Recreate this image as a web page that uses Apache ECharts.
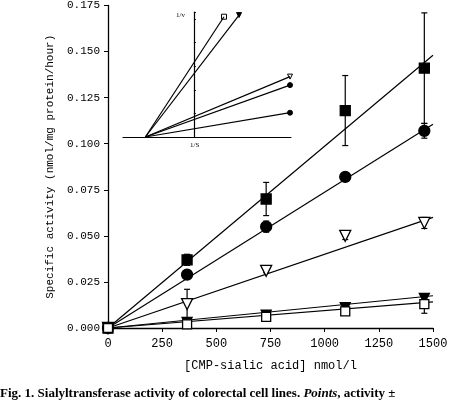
<!DOCTYPE html>
<html><head><meta charset="utf-8">
<script src="https://cdn.jsdelivr.net/npm/echarts@6/dist/echarts.min.js"></script>
<style>html,body{margin:0;background:#fff}#main{width:474px;height:408px}</style>
</head><body><div id="main"></div>
<script>
var conc = [0, 365, 730, 1095, 1460];
// series: filled square, filled circle, open triangle, filled triangle, open square
var sqFilled = [0, 0.037, 0.070, 0.118, 0.141];
var sqFilledErr = [0, 0.003, 0.009, 0.019, 0.030];
var circFilled = [0, 0.029, 0.055, 0.082, 0.107];
var circFilledErr = [0, 0.002, 0.003, 0.002, 0.004];
var triOpen = [0, 0.013, 0.031, 0.050, 0.057];
var triOpenErr = [0, 0.008, 0.001, 0.002, 0.003];
var triFilled = [0, 0.003, 0.007, 0.011, 0.016];
var triFilledErr = [0, 0.001, 0.001, 0.001, 0.002];
var sqOpen = [0, 0.002, 0.006, 0.009, 0.013];
var sqOpenErr = [0, 0.001, 0.001, 0.001, 0.005];
// fitted line values at 1500
var fitEnd = [0.148, 0.1105, 0.060, 0.0175, 0.0142];
var yTicks = ['0.000', '0.025', '0.050', '0.075', '0.100', '0.125', '0.150', '0.175'];
// inset (double reciprocal) lines: x-intercept and end point
var insetX0 = -1.0;
var insetEnds = [[0.62, 5.1], [0.93, 5.17], [1.98, 2.56], [1.98, 2.2], [1.98, 1.03]];
var insetSymbols = ['rect', 'triangle', 'triangle', 'circle', 'circle'];
var insetFilled = [false, true, false, true, true];

var chart = echarts.init(document.getElementById('main'));
var mono = 'Liberation Mono';
var sets = [
  {d: sqFilled, e: sqFilledErr, sym: 'rect', fill: true, size: 10},
  {d: circFilled, e: circFilledErr, sym: 'circle', fill: true, size: 11},
  {d: triOpen, e: triOpenErr, sym: 'triangle', fill: false, size: 11},
  {d: triFilled, e: triFilledErr, sym: 'triangle', fill: true, size: 10},
  {d: sqOpen, e: sqOpenErr, sym: 'rect', fill: false, size: 9}
];
var series = [];
sets.forEach(function (s, k) {
  series.push({type: 'line', data: [[0, 0], [1500, fitEnd[k]]], symbol: 'none', silent: true,
    lineStyle: {color: '#000', width: 1.2}, xAxisIndex: 0, yAxisIndex: 0, z: 2});
  series.push({type: 'custom', xAxisIndex: 0, yAxisIndex: 0, z: 3,
    data: conc.map(function (c, i) { return [c, s.d[i] - s.e[i], s.d[i] + s.e[i]]; }),
    renderItem: function (params, api) {
      var lo = api.coord([api.value(0), api.value(1)]);
      var hi = api.coord([api.value(0), api.value(2)]);
      var st = {stroke: '#000', lineWidth: 1.2};
      return {type: 'group', children: [
        {type: 'line', shape: {x1: lo[0], y1: lo[1], x2: hi[0], y2: hi[1]}, style: st},
        {type: 'line', shape: {x1: lo[0] - 3, y1: lo[1], x2: lo[0] + 3, y2: lo[1]}, style: st},
        {type: 'line', shape: {x1: hi[0] - 3, y1: hi[1], x2: hi[0] + 3, y2: hi[1]}, style: st}
      ]};
    }});
  series.push({type: 'scatter', xAxisIndex: 0, yAxisIndex: 0, z: 4 + k,
    data: conc.map(function (c, i) { return [c, s.d[i]]; }),
    symbol: s.sym, symbolSize: s.size, symbolRotate: s.sym === 'triangle' ? 180 : 0,
    itemStyle: {color: s.fill ? '#000' : '#fff', borderColor: '#000', borderWidth: 1.3, opacity: 1}});
});
insetEnds.forEach(function (e, k) {
  series.push({type: 'line', xAxisIndex: 1, yAxisIndex: 1, data: [[insetX0, 0], e],
    symbol: 'none', lineStyle: {color: '#000', width: 1.2}});
  series.push({type: 'scatter', xAxisIndex: 1, yAxisIndex: 1, data: [e],
    symbol: insetSymbols[k], symbolSize: 5, symbolRotate: insetSymbols[k] === 'triangle' ? 180 : 0,
    itemStyle: {color: insetFilled[k] ? '#000' : '#fff', borderColor: '#000', borderWidth: 1, opacity: 1}});
});

chart.setOption({
  animation: false,
  grid: [
    {left: 108, right: 41, top: 5, bottom: 80},
    {left: 123, top: 12, width: 168, height: 125}
  ],
  xAxis: [
    {type: 'value', min: 0, max: 1500, interval: 250, gridIndex: 0,
     name: '[CMP-sialic acid] nmol/l', nameLocation: 'middle', nameGap: 32,
     nameTextStyle: {fontFamily: mono, fontSize: 12, color: '#000'},
     axisLine: {lineStyle: {color: '#000', width: 1.3}}, axisTick: {length: 4, lineStyle: {color: '#000'}},
     axisLabel: {fontFamily: mono, fontSize: 12, color: '#000', margin: 10,
       formatter: function (v) { return String(v); }}, splitLine: {show: false}},
    {type: 'value', min: -1.46, max: 2, gridIndex: 1,
     axisLine: {onZero: true, lineStyle: {color: '#000', width: 1.2}}, axisTick: {show: false},
     axisLabel: {show: false}, splitLine: {show: false}}
  ],
  yAxis: [
    {type: 'value', min: 0, max: 0.175, interval: 0.025, gridIndex: 0,
     name: 'Specific activity (nmol/mg protein/hour)', nameLocation: 'middle', nameGap: 52,
     nameTextStyle: {fontFamily: mono, fontSize: 11, color: '#000'},
     axisLine: {lineStyle: {color: '#000', width: 1.3}}, axisTick: {length: 4, lineStyle: {color: '#000'}},
     axisLabel: {fontFamily: mono, fontSize: 11, color: '#000',
       formatter: function (v, i) { return yTicks[i]; }}, splitLine: {show: false}},
    {type: 'value', min: 0, max: 5.3, interval: 1, gridIndex: 1,
     axisLine: {onZero: true, lineStyle: {color: '#000', width: 1.2}},
     axisTick: {length: 2, inside: true, lineStyle: {color: '#000'}},
     axisLabel: {show: false}, splitLine: {show: false}}
  ],
  graphic: [
    {type: 'text', left: 0, top: 387, style: {rich: {b: {font: 'bold 13px "Liberation Serif"', fill: '#000'},
      i: {font: 'bold italic 13px "Liberation Serif"', fill: '#000'}},
      text: '{b|Fig. 1. Sialyltransferase activity of colorectal cell lines. }{i|Points}{b|, activity ±}'}},
    {type: 'text', left: 190, top: 142, style: {text: '1/S', font: '7px "Liberation Serif"', fill: '#000'}},
    {type: 'text', left: 176, top: 12, style: {text: '1/v', font: '7px "Liberation Serif"', fill: '#000'}}
  ],
  series: series
});
</script></body></html>
